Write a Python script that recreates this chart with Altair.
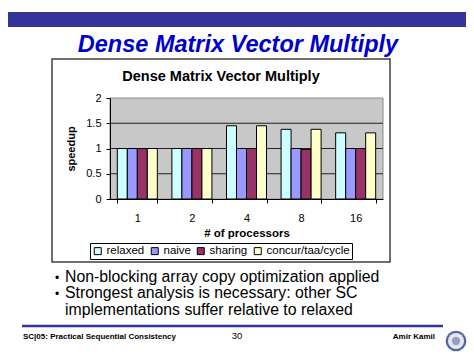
import altair as alt
import pandas as pd

# ---- chart data ----
processors = ["1", "2", "4", "8", "16"]
series = ["relaxed", "naive", "sharing", "concur/taa/cycle"]
relaxed = [1.0, 1.0, 1.45, 1.38, 1.31]
naive = [1.0, 1.0, 1.0, 1.0, 1.0]
sharing = [1.0, 1.0, 1.0, 0.98, 1.0]
concur = [1.0, 1.0, 1.45, 1.38, 1.31]
series_colors = ["#CCFFFF", "#9999FF", "#993366", "#FFFFCC"]
y_ticks = [0, 0.5, 1, 1.5, 2]
grid_values = [0.5, 1, 1.5]

# ---- slide texts ----
slide_title = "Dense Matrix Vector Multiply"
chart_title = "Dense Matrix Vector Multiply"
x_title = "# of processors"
y_title = "speedup"
bullet_1 = "Non-blocking array copy optimization applied"
bullet_2a = "Strongest analysis is necessary: other SC"
bullet_2b = "implementations suffer relative to relaxed"
footer_left = "SC|05: Practical Sequential Consistency"
footer_mid = "30"
footer_right = "Amir Kamil"

FONT = "Liberation Sans"

rows = []
for name, vals in zip(series, [relaxed, naive, sharing, concur]):
    for p, v in zip(processors, vals):
        rows.append({"processors": p, "series": name, "speedup": v})
df = pd.DataFrame(rows)
one = pd.DataFrame({"a": [1]})


def rect(x, x2, y, y2, **kw):
    return alt.Chart(one).mark_rect(**kw).encode(
        x=alt.value(x), x2=alt.value(x2), y=alt.value(y), y2=alt.value(y2))


def text(t, x, y, align="left", **kw):
    kw.setdefault("font", FONT)
    kw.setdefault("color", "black")
    return alt.Chart(one).mark_text(text=t, baseline="alphabetic", align=align, **kw).encode(
        x=alt.value(x), y=alt.value(y))


ydef = alt.Y(
    "speedup:Q",
    scale=alt.Scale(domain=[0, 2], nice=False),
    axis=alt.Axis(
        title=y_title, values=y_ticks, format="~g", grid=False, zindex=1,
        domainColor="black", tickColor="black", tickSize=4, labelPadding=5,
        labelFont=FONT, labelFontSize=11, labelColor="black",
        titleFont=FONT, titleFontSize=11, titleFontWeight="bold", titleColor="black",
        titleX=-39, titleY=50.5, titleAlign="center", titleBaseline="middle",
    ),
)

band = rect(-102, 356, -86, -71, color="#333399")
title = text(slide_title, 128, -46, align="center", fontSize=23.5, fontWeight="bold",
             fontStyle="italic", color="#0000CC")
box = rect(-58, 280, -39, 164, fill="white", stroke="#404040", strokeWidth=1.5)
ctitle = text(chart_title, 111, -17, align="center", fontSize=14.5, fontWeight="bold")
plotbg = rect(0, 273, 0, 101, fill="#C8C8C8", stroke="#8a8a8a", strokeWidth=1)

grid = alt.Chart(pd.DataFrame({"speedup": grid_values})).mark_rule(
    color="#222222", strokeWidth=1).encode(y=ydef)

bars = alt.Chart(df).mark_bar(stroke="black", strokeWidth=1).encode(
    x=alt.X(
        "processors:N", sort=processors,
        scale=alt.Scale(paddingInner=0.267, paddingOuter=0.134),
        axis=alt.Axis(
            title=x_title, labelAngle=0, tickBand="extent", zindex=1,
            domainColor="black", tickColor="black", tickSize=4, labelPadding=9,
            labelFont=FONT, labelFontSize=11, labelColor="black",
            titleFont=FONT, titleFontSize=11.5, titleFontWeight="bold",
            titleColor="black", titlePadding=4,
        ),
    ),
    xOffset=alt.XOffset("series:N", sort=series),
    y=ydef,
    color=alt.Color(
        "series:N", sort=series,
        scale=alt.Scale(domain=series, range=series_colors),
        legend=alt.Legend(
            title=None, orient="none", legendX=-20, legendY=145,
            direction="horizontal", columns=4, symbolType="square",
            symbolSize=49, symbolStrokeColor="black", symbolStrokeWidth=1,
            labelFont=FONT, labelFontSize=11.5, labelColor="black",
            labelOffset=3, columnPadding=4, padding=2,
            strokeColor="black", fillColor="white",
        ),
    ),
)

b1 = text("•", -55, 184, fontSize=12)
t1 = text(bullet_1, -45, 184, fontSize=15.8)
b2 = text("•", -55, 200, fontSize=12)
t2 = text(bullet_2a, -45, 200, fontSize=15.8)
t3 = text(bullet_2b, -45, 217, fontSize=15.8)

fline = alt.Chart(one).mark_rule(color="#333399", strokeWidth=2.5).encode(
    x=alt.value(-88), x2=alt.value(333), y=alt.value(228))
f1 = text(footer_left, -87, 241, fontSize=8, fontWeight="bold")
f2 = text(footer_mid, 127, 241, align="center", fontSize=9.5)
f3 = text(footer_right, 325, 241, align="right", fontSize=8, fontWeight="bold")


def dot(size, color):
    return alt.Chart(one).mark_circle(opacity=1).encode(
        x=alt.value(346), y=alt.value(243), size=alt.value(size), color=alt.value(color))


logo = dot(430, "#5565a5") + dot(260, "#e4e6f0") + dot(70, "#9aa0bc")

chart = alt.layer(
    band, box, title, ctitle, plotbg, grid, bars,
    b1, t1, b2, t2, t3, fline, f1, f2, f3, logo,
).properties(
    width=273, height=101,
    autosize=alt.AutoSizeParams(type="none"),
    padding={"left": 110, "top": 98, "right": 91, "bottom": 156},
    background="white",
).configure_view(stroke=None).configure(font=FONT)

chart.save("out.html", embed_options={"renderer": "svg", "actions": False})
